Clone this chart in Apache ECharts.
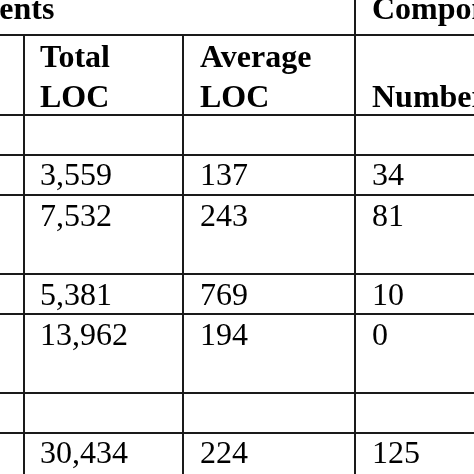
<!DOCTYPE html>
<html><head><meta charset="utf-8">
<script src="https://cdn.jsdelivr.net/npm/echarts@6/dist/echarts.min.js"></script>
<style>html,body{margin:0;padding:0;background:#fff}#c{width:474px;height:474px}</style>
</head><body><div id="c"></div>
<script>
// Data
const headerGroups = ['Components', 'Components'];
const colHeaders1 = ['Total', 'Average', ''];
const colHeaders2 = ['LOC', 'LOC', 'Number'];
const totalLOC = ['', '3,559', '7,532', '', '5,381', '13,962', '', '30,434'];
const averageLOC = ['', '137', '243', '', '769', '194', '', '224'];
const numberCol = ['', '34', '81', '', '10', '0', '', '125'];

// Layout
const vLines = [24, 183, 355];
const hLines = [35, 115, 155, 195, 274, 314, 393, 433];
const colX = [40, 200, 372];
const rowBaselines = [0, 186, 227, 0, 306, 346, 0, 464];
const font = 'Liberation Serif, Times New Roman, serif';
const ink = '#1a1a1a';

const g = [];
vLines.forEach((x, i) => g.push({type: 'line', shape: {x1: x, y1: i === 2 ? 0 : 35, x2: x, y2: 474}, style: {stroke: ink, lineWidth: 2}}));
hLines.forEach(y => g.push({type: 'line', shape: {x1: 0, y1: y, x2: 474, y2: y}, style: {stroke: ink, lineWidth: 2.2}}));
function txt(s, x, y, bold) {
  g.push({type: 'text', x: x, y: y + 7, style: {text: s, font: (bold ? 'bold ' : '') + '32px ' + font, fill: '#000', verticalAlign: 'bottom', align: 'left'}});
}
txt(headerGroups[0], -118, 20, true);
txt(headerGroups[1], 372, 20, true);
colHeaders1.forEach((s, i) => s && txt(s, colX[i], 68, true));
colHeaders2.forEach((s, i) => s && txt(s, colX[i], 108, true));
[totalLOC, averageLOC, numberCol].forEach((col, ci) => col.forEach((v, ri) => v && txt(v, colX[ci], rowBaselines[ri], false)));

const chart = echarts.init(document.getElementById('c'));
chart.setOption({animation: false, backgroundColor: '#fff', graphic: {elements: g}});
</script></body></html>
